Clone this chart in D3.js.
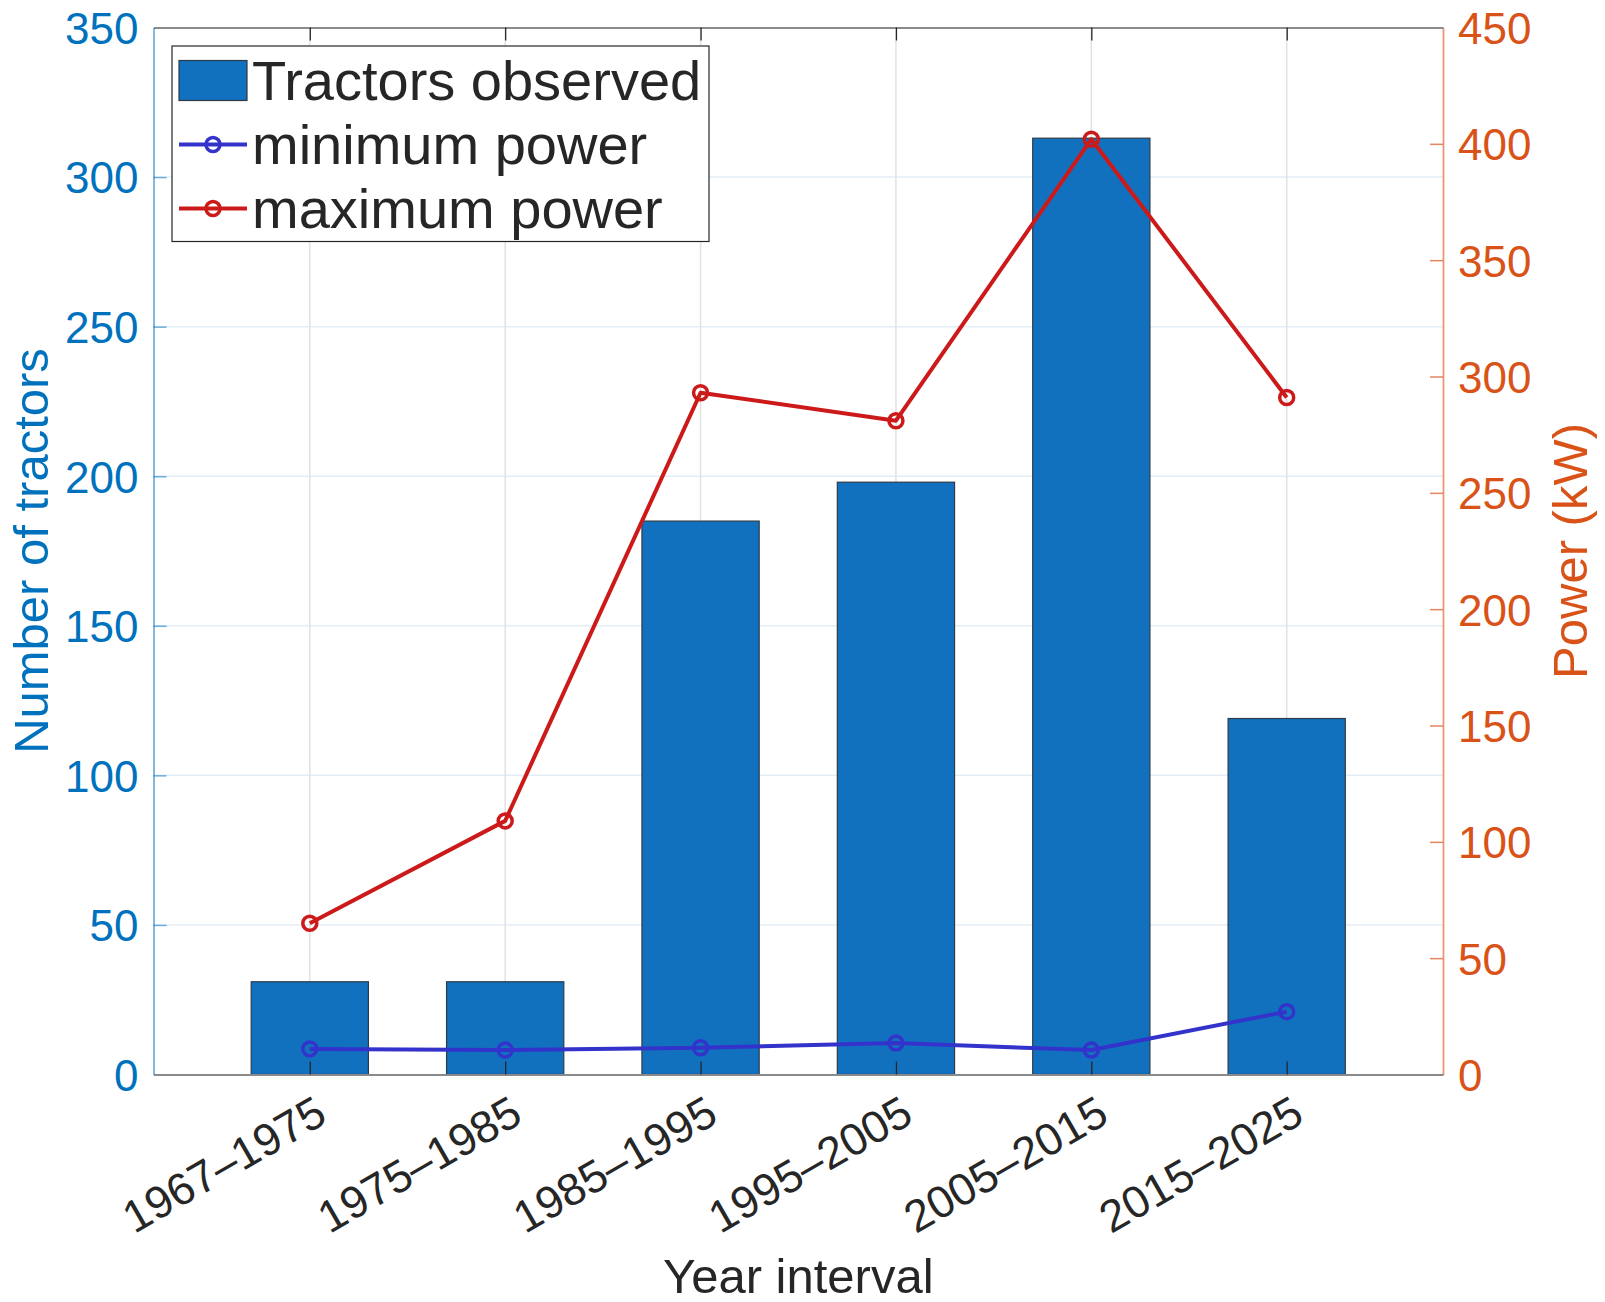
<!DOCTYPE html>
<html lang="en">
<head>
<meta charset="utf-8">
<title>Tractors observed per year interval</title>
<script src="https://d3js.org/d3.v7.min.js"></script>
<style>
  body, html { margin: 0; background: #fff; }
  svg { display: block; }
  text { font-family: "Liberation Sans", Arial, Helvetica, sans-serif; }
</style>
</head>
<body>
<svg id="chart" width="1605" height="1302"></svg>
<script>
// data
var categories = ["1967–1975", "1975–1985", "1985–1995", "1995–2005", "2005–2015", "2015–2025"];
var tractors = [31, 31, 185, 198, 313, 119];
var minPower = [11, 10.5, 11.5, 13.5, 10.5, 27];
var maxPower = [65, 109, 293, 281, 402, 291];
var leftTicks = [0, 50, 100, 150, 200, 250, 300, 350];
var rightTicks = [0, 50, 100, 150, 200, 250, 300, 350, 400, 450];

var plotL = 153.5, plotR = 1443, plotT = 27.5, plotB = 1074.5;
var blue = "#0072bd", orange = "#d95319", dark = "#262626";
var lineW = 4, markR = 7;

var svg = d3.select("#chart");

var x = d3.scaleLinear().domain([0.2, 6.8]).range([plotL, plotR]);
var yL = d3.scaleLinear().domain([0, 350]).range([plotB, plotT]);
var yR = d3.scaleLinear().domain([0, 450]).range([plotB, plotT]);
var barW = x(1.6) - x(1);
var idx = categories.map(function(d, i) { return i + 1; });

//grid
var grid = svg.append("g");
grid.selectAll(".hg").data(leftTicks.slice(1, -1)).enter().append("line")
    .attr("x1", plotL).attr("x2", plotR)
    .attr("y1", yL).attr("y2", yL)
    .attr("stroke", "#e3edf7").attr("stroke-width", 1.5);
grid.selectAll(".vg").data(idx).enter().append("line")
    .attr("x1", x).attr("x2", x)
    .attr("y1", plotT).attr("y2", plotB)
    .attr("stroke", "#e2e2e2").attr("stroke-width", 1.5);

//bars
svg.append("g").selectAll("rect").data(tractors).enter().append("rect")
    .attr("x", function(d, i) { return x(i + 1) - barW / 2; })
    .attr("width", barW)
    .attr("y", function(d) { return yL(d); })
    .attr("height", function(d) { return plotB - yL(d); })
    .attr("fill", "#1271be")
    .attr("stroke", "#2e3b47")
    .attr("stroke-width", 1.2);

//lines
function drawSeries(values, color) {
  var line = d3.line()
      .x(function(d, i) { return x(i + 1); })
      .y(function(d) { return yR(d); });
  var g = svg.append("g");
  g.append("path").datum(values)
      .attr("d", line)
      .attr("fill", "none")
      .attr("stroke", color)
      .attr("stroke-width", lineW)
      .attr("stroke-linejoin", "round");
  g.selectAll("circle").data(values).enter().append("circle")
      .attr("cx", function(d, i) { return x(i + 1); })
      .attr("cy", function(d) { return yR(d); })
      .attr("r", markR)
      .attr("fill", "none")
      .attr("stroke", color)
      .attr("stroke-width", 3.5);
}
drawSeries(minPower, "#3333cc");
drawSeries(maxPower, "#cc1a1a");

//axes
var xBottom = svg.append("g")
    .attr("transform", "translate(0," + plotB + ")")
    .call(d3.axisBottom(x).tickValues(idx).tickSizeInner(-13).tickSizeOuter(0)
      .tickFormat(function(d) { return categories[d - 1]; }));
xBottom.select(".domain").attr("stroke", "#8a8a8a").attr("stroke-width", 1.8);
xBottom.selectAll(".tick line").attr("stroke", dark).attr("stroke-width", 1.3);
xBottom.selectAll(".tick text")
    .attr("x", 0).attr("y", 0).attr("dy", 0)
    .attr("text-anchor", "end")
    .attr("transform", "translate(19,47) rotate(-30)")
    .attr("fill", dark)
    .style("font-size", "45px");

var xTop = svg.append("g")
    .attr("transform", "translate(0," + plotT + ")")
    .call(d3.axisTop(x).tickValues(idx).tickSizeInner(-13).tickSizeOuter(0).tickFormat(""));
xTop.select(".domain").attr("stroke", "#8a8a8a").attr("stroke-width", 1.8);
xTop.selectAll(".tick line").attr("stroke", dark).attr("stroke-width", 1.3);

var yLeft = svg.append("g")
    .attr("transform", "translate(" + plotL + ",0)")
    .call(d3.axisLeft(yL).tickValues(leftTicks).tickSizeInner(-13).tickSizeOuter(0).tickPadding(15));
yLeft.select(".domain").attr("stroke", blue).attr("stroke-opacity", 0.55).attr("stroke-width", 1.8);
yLeft.selectAll(".tick line").attr("stroke", blue).attr("stroke-opacity", 0.55).attr("stroke-width", 1.5);
yLeft.selectAll(".tick text").attr("fill", blue).attr("dy", "0.36em").style("font-size", "44px");

var yRight = svg.append("g")
    .attr("transform", "translate(" + plotR + ",0)")
    .call(d3.axisRight(yR).tickValues(rightTicks).tickSizeInner(-13).tickSizeOuter(0).tickPadding(15));
yRight.select(".domain").attr("stroke", orange).attr("stroke-opacity", 0.6).attr("stroke-width", 1.8);
yRight.selectAll(".tick line").attr("stroke", orange).attr("stroke-opacity", 0.7).attr("stroke-width", 1.5);
yRight.selectAll(".tick text").attr("fill", orange).attr("dy", "0.36em").style("font-size", "44px");
// the end ticks of the side axes sit on the box, hide them
yLeft.selectAll(".tick line").filter(function(d) { return d === 0 || d === 350; }).remove();
yRight.selectAll(".tick line").filter(function(d) { return d === 0 || d === 450; }).remove();

//axis titles
svg.append("text")
    .attr("transform", "translate(48," + (plotT + plotB) / 2 + ") rotate(-90)")
    .attr("text-anchor", "middle")
    .attr("fill", blue)
    .style("font-size", "49px")
    .text("Number of tractors");
svg.append("text")
    .attr("transform", "translate(1587," + (plotT + plotB) / 2 + ") rotate(-90)")
    .attr("text-anchor", "middle")
    .attr("fill", orange)
    .style("font-size", "49px")
    .text("Power (kW)");
svg.append("text")
    .attr("x", (plotL + plotR) / 2)
    .attr("y", 1293)
    .attr("text-anchor", "middle")
    .attr("fill", dark)
    .style("font-size", "49px")
    .text("Year interval");

//legend
var legend = svg.append("g");
legend.append("rect")
    .attr("x", 172).attr("y", 46).attr("width", 537).attr("height", 195.5)
    .attr("fill", "#fff").attr("stroke", dark).attr("stroke-width", 1.2);
var items = [
  { label: "Tractors observed", type: "bar", color: "#1271be" },
  { label: "minimum power", type: "line", color: "#3333cc" },
  { label: "maximum power", type: "line", color: "#cc1a1a" }
];
items.forEach(function(it, i) {
  var cy = 80.5 + i * 64;
  if (it.type === "bar") {
    legend.append("rect")
        .attr("x", 179).attr("y", cy - 20).attr("width", 68).attr("height", 40)
        .attr("fill", it.color).attr("stroke", "#2e3b47").attr("stroke-width", 1.2);
  } else {
    legend.append("line")
        .attr("x1", 179).attr("x2", 247).attr("y1", cy).attr("y2", cy)
        .attr("stroke", it.color).attr("stroke-width", lineW);
    legend.append("circle")
        .attr("cx", 213).attr("cy", cy).attr("r", markR)
        .attr("fill", "none").attr("stroke", it.color).attr("stroke-width", 3.5);
  }
  legend.append("text")
      .attr("x", 252).attr("y", cy + 19.5)
      .attr("fill", dark)
      .style("font-size", "56px")
      .text(it.label);
});
</script>
</body>
</html>
